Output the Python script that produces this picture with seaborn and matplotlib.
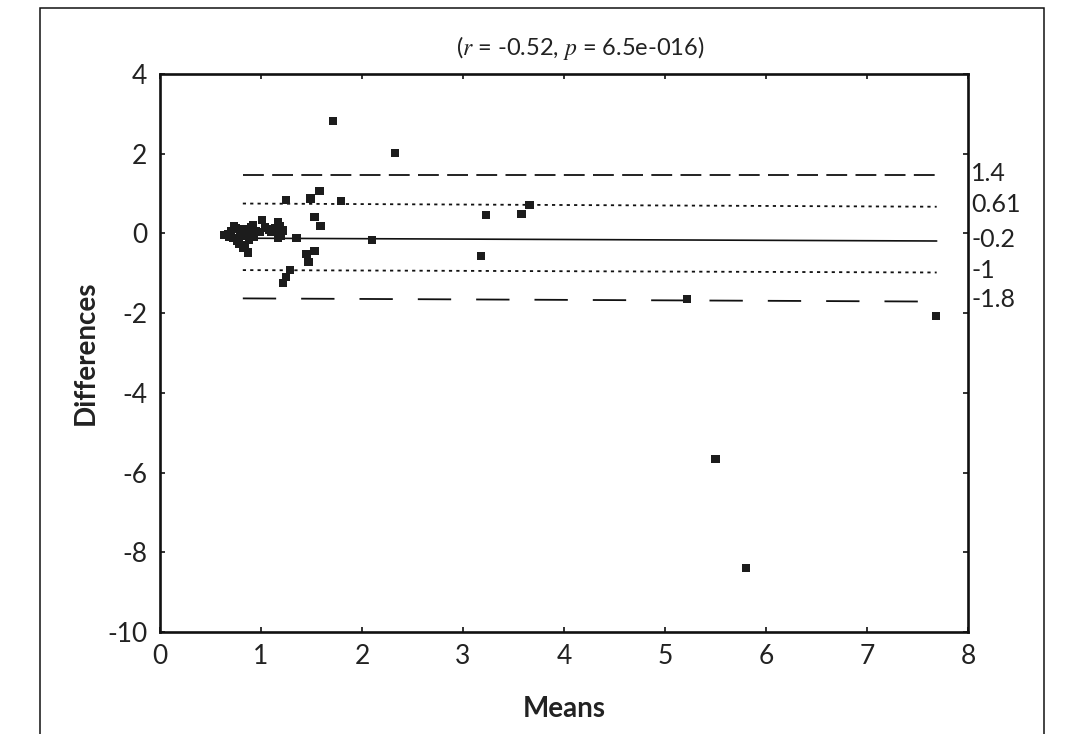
import matplotlib
matplotlib.use("Agg")
import matplotlib.pyplot as plt
import seaborn as sns
import pandas as pd
from matplotlib.patches import Rectangle
import matplotlib.transforms as mtransforms

# ---- data ----
means = [0.64, 0.67, 0.70, 0.73, 0.75, 0.72, 0.76, 0.78, 0.80, 0.82, 0.84, 0.87,
         0.86, 0.79, 0.83, 0.88, 0.90, 0.92, 0.95, 0.99, 1.01, 1.04, 1.08, 1.10,
         1.14, 1.17, 1.19, 1.22, 1.17, 1.20, 0.68, 0.93,
         1.25, 1.49, 1.58, 1.79, 1.53, 1.59, 1.35, 1.53, 1.45, 1.47, 1.29, 1.25,
         1.22, 2.10, 1.71, 2.33, 3.23, 3.58, 3.66, 3.18, 5.22, 7.68, 5.50, 5.80]
diffs = [-0.04, -0.02, 0.05, 0.19, 0.12, -0.12, -0.18, -0.25, -0.05, -0.37, -0.30, -0.48,
         0.00, 0.08, 0.10, -0.15, 0.15, 0.21, 0.05, 0.04, 0.33, 0.15, 0.10, 0.05,
         0.12, 0.28, 0.18, 0.07, -0.10, -0.05, -0.08, -0.08,
         0.84, 0.88, 1.06, 0.81, 0.42, 0.19, -0.12, -0.44, -0.52, -0.71, -0.92, -1.09,
         -1.24, -0.17, 2.82, 2.01, 0.46, 0.49, 0.71, -0.57, -1.65, -2.07, -5.66, -8.40]

line_x = [0.82, 7.69]
upper_loa = [1.46, 1.46]
upper_ci = [0.75, 0.67]
mean_line = [-0.12, -0.19]
lower_ci = [-0.92, -0.98]
lower_loa = [-1.63, -1.71]
right_labels = ["1.4", "0.61", "-0.2", "-1", "-1.8"]

x_ticks = [0, 1, 2, 3, 4, 5, 6, 7, 8]
y_ticks = [-10, -8, -6, -4, -2, 0, 2, 4]

title_text = "($r$ = -0.52, $p$ = 6.5e-016)"
x_label = "Means"
y_label = "Differences"

# ---- style ----
sns.set_style("ticks")
plt.rcParams["font.family"] = ["Lato", "DejaVu Sans"]
plt.rcParams["mathtext.fontset"] = "stix"
plt.rcParams["lines.scale_dashes"] = False

fig = plt.figure(figsize=(10.65, 7.34), dpi=100)
ax = fig.add_axes([160 / 1065, 1 - 632 / 734, (968 - 160) / 1065, (632 - 74) / 734])

df = pd.DataFrame({"Means": means, "Differences": diffs})
sns.scatterplot(data=df, x="Means", y="Differences", marker="s", s=36,
                color="#1c1c1c", edgecolor="none", linewidth=0, ax=ax, zorder=3)

ax.plot(line_x, upper_loa, color="#111111", lw=1.3, linestyle=(0, (15, 6)))
ax.plot(line_x, upper_ci, color="#111111", lw=1.3, linestyle=(0, (2.3, 3.0)))
ax.plot(line_x, mean_line, color="#111111", lw=1.2, linestyle="-")
ax.plot(line_x, lower_ci, color="#111111", lw=1.3, linestyle=(0, (2.3, 3.0)))
ax.plot(line_x, lower_loa, color="#111111", lw=1.3, linestyle=(0, (24, 18)))

ax.set_xlim(0, 8)
ax.set_ylim(-10, 4)
ax.set_xticks(x_ticks)
ax.set_yticks(y_ticks)
ax.set_xticklabels([str(t) for t in x_ticks])
ax.set_yticklabels([str(t) for t in y_ticks])

for sp in ax.spines.values():
    sp.set_visible(True)
    sp.set_linewidth(1.9)
    sp.set_color("#111111")

ax.tick_params(axis="both", which="both", direction="in", length=3.5, width=1.2,
               top=True, right=True, labelsize=19, colors="#111111",
               labelcolor="#222222")
ax.tick_params(axis="x", pad=9)
ax.tick_params(axis="y", pad=9)

ax.set_xlabel(x_label, fontsize=20, fontweight="bold", labelpad=19, color="#222222")
ax.set_ylabel(y_label, fontsize=20, fontweight="bold", labelpad=6, color="#222222")
ax.set_title(title_text, fontsize=17, pad=14, color="#222222", x=0.52)

trans = mtransforms.blended_transform_factory(ax.transAxes, ax.transData)
ends = [upper_loa[-1], upper_ci[-1], mean_line[-1], lower_ci[-1], lower_loa[-1]]
for lab, yv in zip(right_labels, ends):
    ax.text(1.004, yv + 0.05, lab, transform=trans, fontsize=18,
            va="center", ha="left", color="#222222")

# outer frame
fig.patches.append(Rectangle((40 / 1065, -0.05), (1044 - 40) / 1065, 1.05 - 8 / 734,
                             transform=fig.transFigure, fill=False,
                             edgecolor="#111111", linewidth=1.1))

fig.savefig("out.png", dpi=100)
